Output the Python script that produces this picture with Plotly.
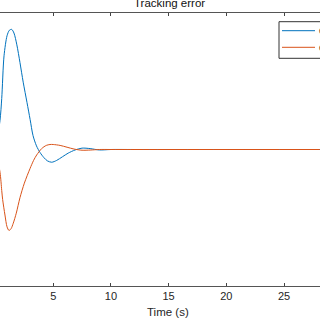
import plotly.graph_objects as go

# Data
t1 = [0, 0.39, 0.54, 0.74, 1.0, 1.2, 1.4, 1.6, 1.85, 2.12, 2.4, 2.73, 3.0, 3.25, 3.55,
      3.86, 4.2, 4.5, 4.87, 5.3, 5.8, 6.3, 6.9, 7.5, 8.2, 9.0, 10, 12, 30]
e1 = [0, 0.32, 0.56, 1.03, 1.25, 1.31, 1.32, 1.28, 1.15, 0.956, 0.74, 0.516, 0.33, 0.154, 0.04,
      -0.033, -0.09, -0.125, -0.14, -0.12, -0.08, -0.04, -0.005, 0.015, 0.01, -0.005, 0, 0, 0]

t2 = [0, 0.39, 0.54, 0.62, 0.82, 1.0, 1.17, 1.35, 1.54, 1.8, 2.12, 2.5, 2.99, 3.3, 3.57,
      4.0, 4.4, 4.72, 5.0, 5.6, 6.2, 6.8, 7.5, 8.2, 9.0, 10, 12, 30]
e2 = [0, -0.25, -0.45, -0.55, -0.72, -0.85, -0.89, -0.87, -0.81, -0.70, -0.53, -0.37, -0.21, -0.12, -0.06,
      0.01, 0.045, 0.055, 0.055, 0.045, 0.025, 0.005, -0.008, -0.006, 0.0, 0, 0, 0]

x_ticks = [5, 10, 15, 20, 25]
names = ["e1", "e2"]
colors = ["#0072BD", "#D95319"]
title_text = "Tracking error"
xlabel = "Time (s)"

W, H, T, B = 320, 320, 13, 34
PH = H - T - B


def px(x):
    return x / W


def py(y):
    return 1 - (y - T) / PH


font = "Liberation Sans, Arial, sans-serif"
fig = go.Figure()
fig.add_trace(go.Scatter(x=t1, y=e1, mode="lines", name=names[0], showlegend=False,
                         line=dict(color=colors[0], width=1.0, shape="spline", smoothing=0.8)))
fig.add_trace(go.Scatter(x=t2, y=e2, mode="lines", name=names[1], showlegend=False,
                         line=dict(color=colors[1], width=1.0, shape="spline", smoothing=0.8)))

# legend box (drawn like the MATLAB legend, which is cut by the picture's edge)
shapes = [dict(type="rect", xref="paper", yref="paper", x0=px(279), x1=px(340),
               y0=py(58.3), y1=py(21.7), line=dict(color="#333333", width=1),
               fillcolor="white", layer="above")]
annotations = []
for i, (nm, c) in enumerate(zip(names, colors)):
    yy = 30.7 + i * 16.6
    shapes.append(dict(type="line", xref="paper", yref="paper", x0=px(282), x1=px(315),
                       y0=py(yy), y1=py(yy), line=dict(color=c, width=1), layer="above"))
    annotations.append(dict(text=nm, xref="paper", yref="paper", x=px(316.5), y=py(yy),
                            xanchor="left", yanchor="middle", showarrow=False,
                            font=dict(size=10, color="#262626")))

annotations += [
    dict(text=title_text, xref="paper", yref="paper", x=169/320, y=py(11),
         xanchor="center", yanchor="bottom", showarrow=False,
         font=dict(size=11.5, color="#111")),
    dict(text=xlabel, xref="paper", yref="paper", x=168/320, y=py(312),
         xanchor="center", yanchor="middle", showarrow=False,
         font=dict(size=11.5, color="#262626")),
]

fig.update_layout(
    width=W, height=H,
    margin=dict(l=0, r=0, t=T, b=B, autoexpand=False),
    paper_bgcolor="white", plot_bgcolor="white",
    font=dict(family=font, size=11, color="#262626"),
    showlegend=False,
    xaxis=dict(range=[0.39, 28.12], tickvals=x_ticks, ticks="inside", ticklen=3,
               tickcolor="#444", showline=True, linecolor="#555", linewidth=1,
               mirror="ticks", showgrid=False, zeroline=False, automargin=False,
               tickfont=dict(size=11, color="#262626")),
    yaxis=dict(range=[-1.5, 1.5], visible=False, showgrid=False, zeroline=False),
    shapes=shapes,
    annotations=annotations,
)

fig.write_html("out.html")
